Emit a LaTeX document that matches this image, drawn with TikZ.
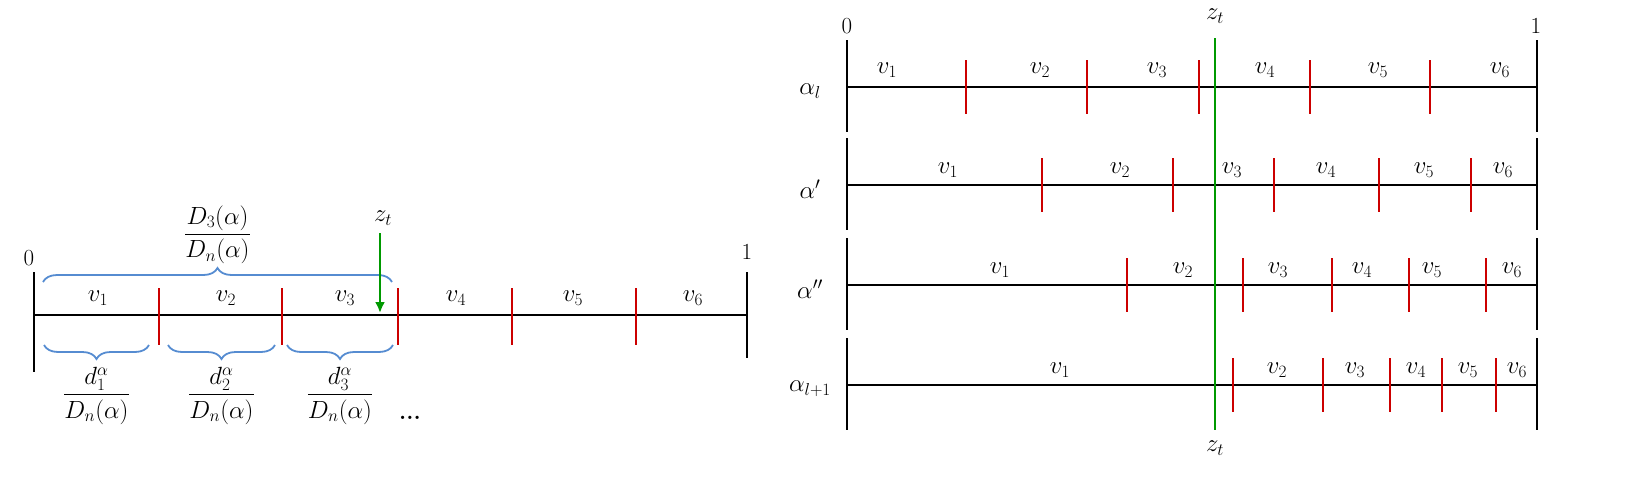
\documentclass[tikz,border=0pt]{standalone}
\usepackage{amsmath}
\usetikzlibrary{decorations.pathreplacing,arrows.meta}
\begin{document}
\begin{tikzpicture}[x=1pt,y=-1pt,
  axis/.style={line width=2.4pt,black},
  redtick/.style={line width=2.4pt,red!80!black},
  grn/.style={line width=2.6pt,green!60!black},
  br/.style={decorate,decoration={brace,amplitude=14pt},line width=1.8pt,cyan!50!blue!70!white},
  lab/.style={font=\fontsize{23}{26}\selectfont,inner sep=1pt,text=black}]
\useasboundingbox (0,0) rectangle (1637,485);
% left
\coordinate (La) at (34,315); \coordinate (Lb) at (747,315);
\draw[axis] (La) -- (Lb);
\draw[axis] (34,272) -- (34,372);
\draw[axis] (747,272) -- (747,358);
\foreach \x in {159,282,398,512,636} \draw[redtick] (\x,288) -- (\x,345);
\foreach \x/\i in {98/1,226/2,345/3,456/4,573/5,693/6} \node[lab] (lv\i) at (\x,298) {$v_{\i}$};
\node[lab] (l0) at (29,258) {0};
\node[lab] (l1) at (747,252) {1};
\draw[br] (43,282) -- (392,282) node[midway,above=16pt,lab] (D3) {$\dfrac{D_3(\alpha)}{D_n(\alpha)}$};
\node[lab] (zl) at (383,218) {$z_t$};
\coordinate (zlend) at (380,313);
\draw[grn,-{Latex[length=11pt,width=10pt]}] (380,233) -- (zlend);
\foreach \a/\b/\i in {44/149/1,168/275/2,287/393/3}
  \draw[br] (\b,345) -- (\a,345) node[midway,below=20pt,lab] (d\i) {$\dfrac{d_{\i}^{\alpha}}{D_n(\alpha)}$};
\node[lab] (dots) at (410,418) {\textbf{...}};
% right
\node[lab] (r0) at (847,26) {0};
\node[lab] (r1) at (1536,26) {1};
\foreach \y/\nm [count=\r] in {87/{\alpha_l},185/{\alpha'},285/{\alpha''},385/{\alpha_{l+1}}}{
  \draw[axis] (847,\y) -- (1537,\y);
  \draw[axis] (847,\y-47) -- (847,\y+45);
  \draw[axis] (1537,\y-47) -- (1537,\y+45);
  \node[lab] (ra\r) at (810,\y+4) {$\nm$};
}
\foreach \x in {966,1087,1199,1310,1430} \draw[redtick] (\x,60) -- (\x,114);
\foreach \x in {1042,1173,1274,1379,1471} \draw[redtick] (\x,158) -- (\x,212);
\foreach \x in {1127,1243,1332,1409,1486} \draw[redtick] (\x,258) -- (\x,312);
\foreach \x in {1233,1323,1390,1442,1496} \draw[redtick] (\x,358) -- (\x,412);
\foreach \x/\i in {887/1,1040/2,1157/3,1265/4,1378/5,1500/6} \node[lab] (a\i) at (\x,70) {$v_{\i}$};
\foreach \x/\i in {948/1,1120/2,1232/3,1326/4,1424/5,1503/6} \node[lab] (b\i) at (\x,170) {$v_{\i}$};
\foreach \x/\i in {1000/1,1183/2,1278/3,1362/4,1432/5,1512/6} \node[lab] (c\i) at (\x,270) {$v_{\i}$};
\foreach \x/\i in {1060/1,1277/2,1355/3,1416/4,1468/5,1517/6} \node[lab] (e\i) at (\x,370) {$v_{\i}$};
\node[lab] (zt) at (1215,16) {$z_t$};
\node[lab] (zb) at (1215,448) {$z_t$};
\draw[grn] (1215,38) -- (1215,430);
\end{tikzpicture}
\end{document}
